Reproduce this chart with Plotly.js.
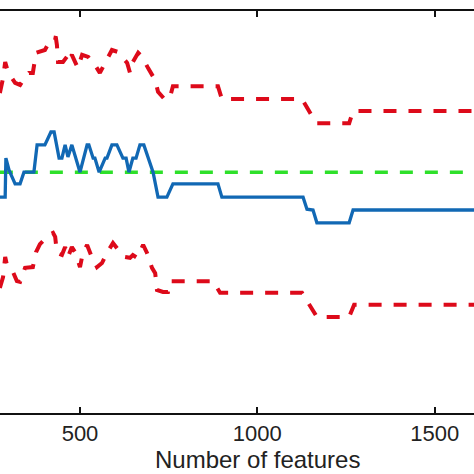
<!DOCTYPE html>
<html>
<head>
<meta charset="utf-8">
<script src="https://cdn.plot.ly/plotly-3.0.1.min.js"></script>
<style>html,body{margin:0;padding:0;background:#fff;}#chart{width:474px;height:474px;}</style>
</head>
<body>
<div id="chart"></div>
<script>
// Number of features (x) and score (y, arbitrary units 0-100; y axis not visible in reference)
const meanX = [274,289,291,300,317,331,342,370,379,401,418,427,441,449,458,466,477,500,520,525,537,542,554,571,576,590,604,621,630,638,649,658,669,680,706,720,745,762,889,900,1129,1140,1157,1168,1259,1270,1700];
const meanY = [53.7,53.7,63.4,60.4,57.0,57.0,59.9,59.9,66.7,66.7,69.9,69.9,63.4,63.4,66.7,63.7,66.7,59.9,66.7,66.7,63.4,63.4,59.9,63.4,63.4,66.7,66.7,63.4,63.4,59.9,63.4,63.4,66.7,66.7,59.9,53.7,53.7,57.0,57.0,53.7,53.7,50.7,50.5,47.3,47.3,50.5,50.5];

const upperX = [274,283,289,297,317,331,336,356,367,376,401,421,432,435,438,452,463,466,477,494,506,523,534,542,556,576,590,607,618,633,641,649,664,675,692,712,720,740,754,762,889,900,1126,1166,1259,1270,1700];
const upperY = [79.6,83.3,87.3,84.8,82.1,81.6,82.3,84.6,84.6,89.6,90.3,93.5,93.3,91.5,87.3,87.3,88.6,87.3,89.1,85.8,89.1,88.6,87.3,86.6,84.6,87.8,90.3,89.8,88.6,87.1,84.6,87.3,89.6,88.6,85.8,82.8,79.9,77.9,78.6,81.3,81.3,78.1,78.1,72.1,72.1,75.1,75.1];

const lowerX = [274,283,289,294,311,322,331,345,367,376,387,413,424,430,435,449,458,466,477,486,500,508,520,531,548,562,576,593,613,627,641,649,661,678,689,703,712,717,734,748,754,875,895,1126,1168,1259,1273,1700];
const lowerY = [31.1,33.8,38.8,36.8,35.1,32.8,32.6,36.1,36.3,40.0,42.0,44.3,44.8,43.8,39.8,39.3,41.3,38.8,41.3,40.0,36.3,39.8,41.8,39.3,36.3,37.3,39.8,42.3,40.0,38.8,38.6,39.3,38.6,41.8,39.8,36.1,34.8,30.6,30.1,30.1,32.8,32.8,29.9,29.9,23.9,23.9,26.9,26.9];

const refX = [274,1700];
const refY = [59.9,59.9];

const tickVals = [500,1000,1500];
const tickText = ['500','1000','1500'];
const xTitle = 'Number of features';

const traces = [
  {x: upperX, y: upperY, mode:'lines', line:{color:'#dd0a1a', width:4, dash:'13px,12px'}, hoverinfo:'skip'},
  {x: lowerX, y: lowerY, mode:'lines', line:{color:'#dd0a1a', width:4, dash:'13px,12px'}, hoverinfo:'skip'},
  {x: refX, y: refY, mode:'lines', line:{color:'#2ee02a', width:3.5, dash:'13px,12px'}, hoverinfo:'skip'},
  {x: meanX, y: meanY, mode:'lines', line:{color:'#1168b4', width:3.3}, hoverinfo:'skip'}
];

const layout = {
  width:474, height:474,
  margin:{l:0, r:0, t:11, b:61, pad:0},
  paper_bgcolor:'#fff', plot_bgcolor:'#fff',
  showlegend:false,
  font:{family:'Liberation Sans, Arial, sans-serif', color:'#222'},
  xaxis:{
    range:[274.4,1611], showgrid:false, zeroline:false,
    showline:true, linecolor:'#111', linewidth:2, mirror:'ticks',
    ticks:'inside', ticklen:6, tickwidth:2, tickcolor:'#111',
    tickmode:'array', tickvals:tickVals, ticktext:tickText,
    tickfont:{size:22, color:'#222'}
  },
  yaxis:{range:[0,100], visible:false, showgrid:false, zeroline:false},
  annotations:[{
    text:xTitle, xref:'x', x:1000, yref:'paper', y:-0.1515, yanchor:'bottom', xanchor:'center',
    borderpad:0, showarrow:false, font:{size:24, color:'#222'}
  }]
};

Plotly.newPlot('chart', traces, layout, {staticPlot:true, displayModeBar:false});
</script>
</body>
</html>
